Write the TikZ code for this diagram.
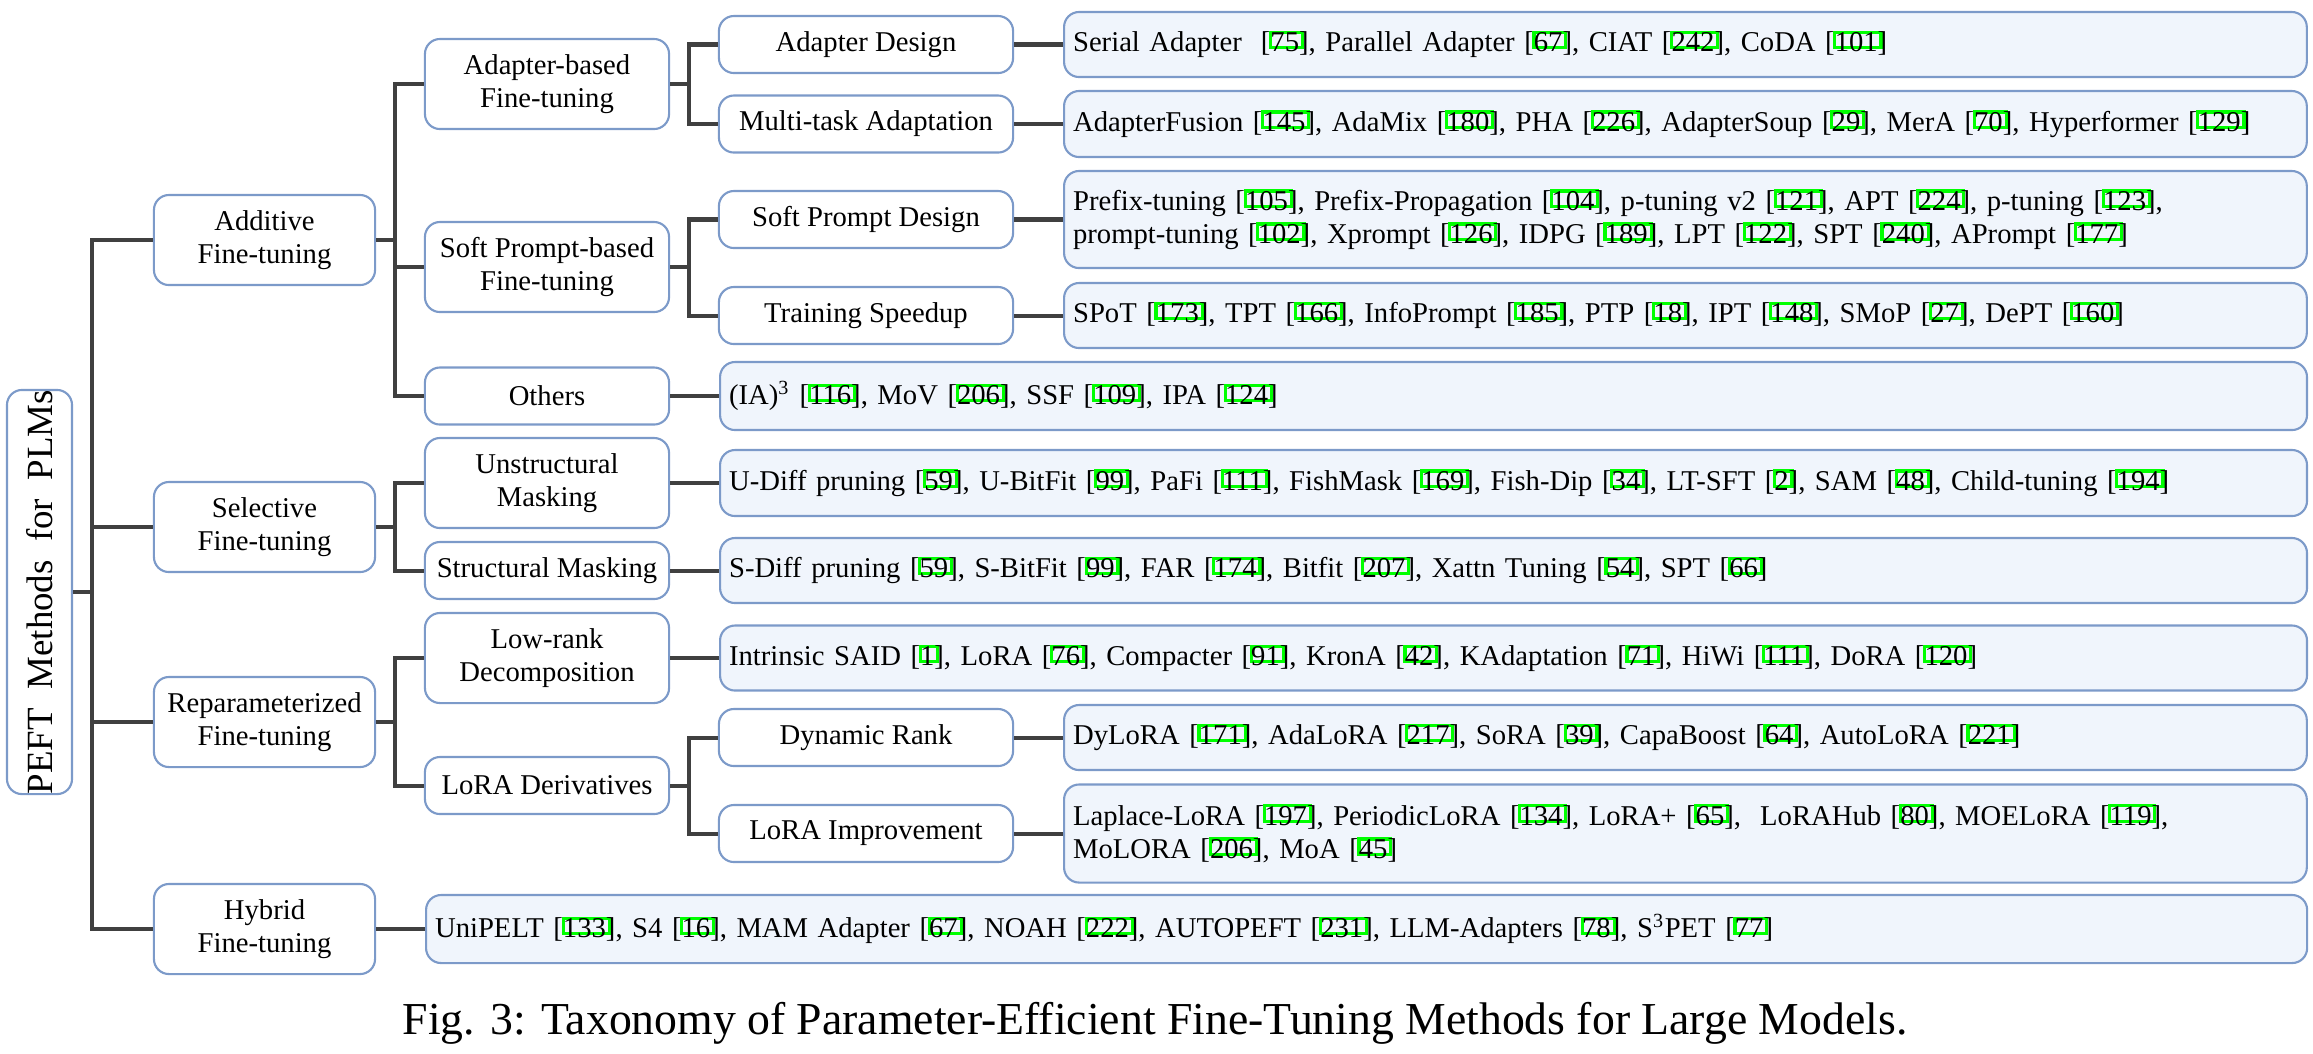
\documentclass[tikz,border=0pt]{standalone}
\usepackage{fontspec}
\setmainfont{Liberation Serif}

\definecolor{boxedge}{RGB}{124,154,201}
\definecolor{leaffill}{RGB}{240,245,252}
\definecolor{wire}{RGB}{64,64,64}
\definecolor{linkgreen}{RGB}{0,255,0}

% citation number with the green link frame
\newcommand\cit[1]{[\rlap{\hspace*{-0.05em}\color{linkgreen}\raisebox{0.2em}{\setlength\fboxsep{0pt}\setlength\fboxrule{0.11em}\fbox{\rule{0pt}{0.42em}\hphantom{#1}}}}#1]}

\tikzset{
  link/.style={draw=wire, line width=1.15pt},
  catbox/.style={draw=boxedge, line width=0.6pt, rounded corners=0.15cm, fill=white,
    align=center, inner sep=0pt, font=\fontsize{8.15}{9.3}\selectfont},
  rootbox/.style={catbox, rotate=90, minimum width=4.02cm, minimum height=0.65cm,
    font=\fontsize{10.5}{12}\selectfont},
  lone/.style={catbox, minimum width=2.21cm, minimum height=0.9cm},
  ltwo/.style={catbox, minimum width=2.44cm, minimum height=#1},
  lthree/.style={catbox, minimum width=2.94cm, minimum height=0.57cm},
  leafbox/.style={catbox, fill=leaffill, align=left, anchor=west, inner xsep=0.09cm,
    text width=#1, font=\fontsize{8.15}{9.4}\selectfont},
}

\begin{document}
\begin{tikzpicture}[x=0.01cm, y=-0.01cm]
    \useasboundingbox (0,0) rectangle (2313,1053);

    \draw(39.5,592) node[rootbox] (root) {PEFT\ \ Methods\ \ for\ \ PLMs};

    \draw(264.5,240) node[lone] (add) {Additive\\Fine-tuning};
    \draw(264.5,527) node[lone] (sel) {Selective\\Fine-tuning};
    \draw(264.5,722) node[lone] (rep) {Reparameterized\\Fine-tuning};
    \draw(264.5,929) node[lone] (hyb) {Hybrid\\Fine-tuning};

    \draw(547,84) node[ltwo=0.9cm] (adb) {Adapter-based\\Fine-tuning};
    \draw(547,267) node[ltwo=0.9cm] (spb) {Soft Prompt-based\\Fine-tuning};
    \draw(547,396) node[ltwo=0.57cm] (oth) {Others};
    \draw(547,483) node[ltwo=0.9cm] (unm) {Unstructural\\Masking};
    \draw(547,570.5) node[ltwo=0.57cm] (stm) {Structural Masking};
    \draw(547,658) node[ltwo=0.9cm] (lrd) {Low-rank\\Decomposition};
    \draw(547,785.5) node[ltwo=0.57cm] (lod) {LoRA Derivatives};

    \draw(866,44.5) node[lthree] (ad) {Adapter Design};
    \draw(866,124) node[lthree] (mta) {Multi-task Adaptation};
    \draw(866,219.5) node[lthree] (spd) {Soft Prompt Design};
    \draw(866,315.5) node[lthree] (tsp) {Training Speedup};
    \draw(866,737.5) node[lthree] (dyr) {Dynamic Rank};
    \draw(866,833.5) node[lthree] (loi) {LoRA Improvement};

    \draw(1063,44.5) node[leafbox=12.24cm, minimum height=0.65cm] (adl) {Serial Adapter~ \cit{75}, Parallel Adapter \cit{67}, CIAT \cit{242}, CoDA \cit{101}};
    \draw(1063,124) node[leafbox=12.24cm, minimum height=0.66cm] (mtal) {AdapterFusion \cit{145}, AdaMix \cit{180}, PHA \cit{226}, AdapterSoup \cit{29}, MerA \cit{70}, Hyperformer \cit{129}};
    \draw(1063,219.5) node[leafbox=12.24cm, minimum height=0.97cm] (spdl) {Prefix-tuning \cit{105}, Prefix-Propagation \cit{104}, p-tuning v2 \cit{121}, APT \cit{224}, p-tuning \cit{123},\\prompt-tuning \cit{102}, Xprompt \cit{126}, IDPG \cit{189}, LPT \cit{122}, SPT \cit{240}, APrompt \cit{177}};
    \draw(1063,315.5) node[leafbox=12.24cm, minimum height=0.65cm] (tspl) {SPoT \cit{173}, TPT \cit{166}, InfoPrompt \cit{185}, PTP \cit{18}, IPT \cit{148}, SMoP \cit{27}, DePT \cit{160}};
    \draw(719,396) node[leafbox=15.68cm, minimum height=0.68cm] (othl) {(IA)\textsuperscript{3} \cit{116}, MoV \cit{206}, SSF \cit{109}, IPA \cit{124}};
    \draw(719,483) node[leafbox=15.68cm, minimum height=0.66cm] (unml) {U-Diff pruning \cit{59}, U-BitFit \cit{99}, PaFi \cit{111}, FishMask \cit{169}, Fish-Dip \cit{34}, LT-SFT \cit{2}, SAM \cit{48}, Child-tuning \cit{194}};
    \draw(719,570.5) node[leafbox=15.68cm, minimum height=0.65cm] (stml) {S-Diff pruning \cit{59}, S-BitFit \cit{99}, FAR \cit{174}, Bitfit \cit{207}, Xattn Tuning \cit{54}, SPT \cit{66}};
    \draw(719,658) node[leafbox=15.68cm, minimum height=0.65cm] (lrdl) {Intrinsic SAID \cit{1}, LoRA \cit{76}, Compacter \cit{91}, KronA \cit{42}, KAdaptation \cit{71}, HiWi \cit{111}, DoRA \cit{120}};
    \draw(1063,737.5) node[leafbox=12.24cm, minimum height=0.65cm] (dyrl) {DyLoRA \cit{171}, AdaLoRA \cit{217}, SoRA \cit{39}, CapaBoost \cit{64}, AutoLoRA \cit{221}};
    \draw(1063,833.5) node[leafbox=12.24cm, minimum height=0.98cm] (loil) {Laplace-LoRA \cit{197}, PeriodicLoRA \cit{134}, LoRA+ \cit{65}, ~LoRAHub \cit{80}, MOELoRA \cit{119},\\MoLORA \cit{206}, MoA \cit{45}};
    \draw(425,929) node[leafbox=18.62cm, minimum height=0.68cm] (hybl) {UniPELT \cit{133}, S4 \cit{16}, MAM Adapter \cit{67}, NOAH \cit{222}, AUTOPEFT \cit{231}, LLM-Adapters \cit{78}, S\textsuperscript{3}PET \cit{77}};

    % trunk and branches
    \foreach \c in {add,sel,rep,hyb}
        \draw[link] (\c.west) -- ++(-61,0) |- (root.south);
    \foreach \c in {adb,spb,oth}
        \draw[link] (\c.west) -- ++(-29,0) |- (add.east);
    \foreach \c in {unm,stm}
        \draw[link] (\c.west) -- ++(-29,0) |- (sel.east);
    \foreach \c in {lrd,lod}
        \draw[link] (\c.west) -- ++(-29,0) |- (rep.east);
    \foreach \c/\p in {ad/adb,mta/adb,spd/spb,tsp/spb,dyr/lod,loi/lod}
        \draw[link] (\c.west) -- ++(-29,0) |- (\p.east);
    \foreach \a/\b in {ad/adl,mta/mtal,spd/spdl,tsp/tspl,oth/othl,unm/unml,stm/stml,lrd/lrdl,dyr/dyrl,loi/loil,hyb/hybl}
        \draw[link] (\a.east) -- (\b.west);

    \draw(1155,1023) node[font=\fontsize{13}{15}\selectfont] (cap) {Fig. 3: Taxonomy of Parameter-Efficient Fine-Tuning Methods for Large Models.};

\end{tikzpicture}
\end{document}
